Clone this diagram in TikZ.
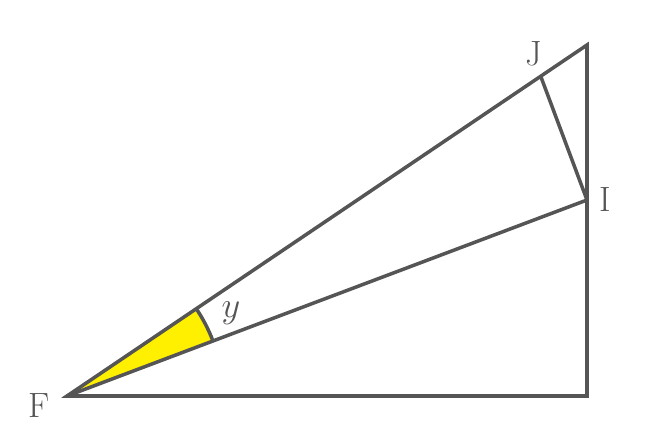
\documentclass[tikz,border=0pt]{standalone}
\usepackage{tikz}
\usetikzlibrary{calc, angles, positioning}
\definecolor{edgegray}{HTML}{555555}
\definecolor{wedgeyellow}{HTML}{FFF000}
\tikzstyle{edge} = [draw=edgegray, line width=2pt, line join=miter]
\tikzstyle{vertex} = [coordinate]
\tikzstyle{tag} = [text=edgegray, font=\fontsize{20}{24}\selectfont]

\begin{document}
\begin{tikzpicture}[x=0.02cm, y=0.02cm]
\useasboundingbox (0,0) rectangle (650,440);
\node [vertex] (F) at (67,44) {};
\node [vertex] (C) at (587,44) {};
\node [vertex] (T) at (587,395) {};
\node [vertex] (I) at (587,240) {};
\node [vertex] (J) at (541,363) {};

\pic [fill=wedgeyellow, draw=edgegray, line width=2pt, angle radius=3.12cm] {angle = I--F--T};

\draw [edge] (T) -- (F) -- (C) -- cycle;
\draw [edge] (F) -- (I);
\draw [edge] (J) -- (I);

\node [tag, left=0.22cm of F, yshift=-0.2cm] (Flabel) {F};
\node [tag, above left=0.1cm and -0.14cm of J] (Jlabel) {J};
\node [tag, right=0.12cm of I] (Ilabel) {I};
\node [tag] (ylabel) at (231,127) {$y$};
\end{tikzpicture}
\end{document}
